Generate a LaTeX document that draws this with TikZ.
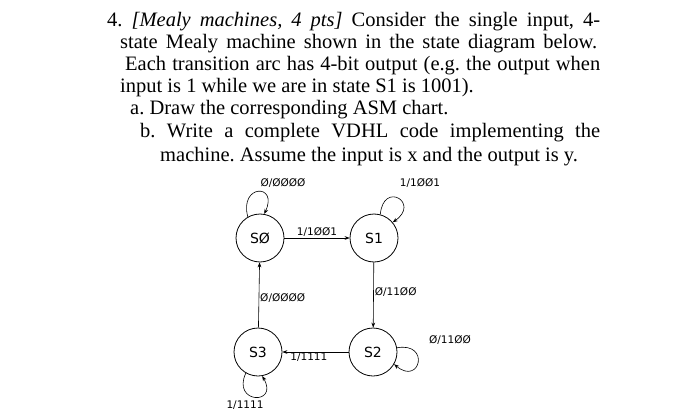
\documentclass[tikz,border=0pt]{standalone}
\usepackage{fontspec}
\setmainfont{Liberation Serif}
\newfontfamily\handfont{DejaVu Sans}
\usetikzlibrary{arrows.meta}
\frenchspacing
\begin{document}
\begin{tikzpicture}[x=1pt,y=-1pt,
    line/.style={anchor=base west,inner sep=0pt,font=\fontsize{20.5}{22}\selectfont},
    state/.style={draw,circle,minimum size=48pt,inner sep=0pt,thick,font=\handfont\fontsize{14}{14}\selectfont},
    arc/.style={-{Stealth[length=5pt]},semithick},
    lbl/.style={font=\handfont\fontsize{10.5}{10.5}\selectfont,inner sep=1pt}]
  \useasboundingbox (0,0) rectangle (700,414);

  % question text
  \node[line] (l1) at (107,27) {\makebox[493pt][s]{4. \textit{[Mealy machines, 4 pts]} Consider the single input, 4-}};
  \node[line] (l2) at (120,49) {\makebox[477pt][s]{state Mealy machine shown in the state diagram below.}};
  \node[line] (l3) at (125,71) {\makebox[475pt][s]{Each transition arc has 4-bit output (e.g. the output when}};
  \node[line] (l4) at (120,93) {input is 1 while we are in state S1 is 1001).};
  \node[line] (l5) at (130,115) {a. Draw the corresponding ASM chart.};
  \node[line] (l6) at (140,138) {\makebox[460pt][s]{b. Write a complete VDHL code implementing the}};
  \node[line] (l7) at (160,161) {machine. Assume the input is x and the output is y.};

  % states
  \node[state] (s0) at (260,238) {SØ};
  \node[state] (s1) at (374,238) {S1};
  \node[state] (s2) at (373,352) {S2};
  \node[state] (s3) at (258,352) {S3};

  % transitions
  \draw[arc] (s0) -- node[lbl,above] {1/1ØØ1} (s1);
  \draw[arc] (s1) -- node[lbl,right,pos=0.45] {Ø/11ØØ} (s2);
  \draw[arc] (s2) -- node[lbl,below,pos=0.6] {1/1111} (s3);
  \draw[arc] (s3) -- node[lbl,right,pos=0.45] {Ø/ØØØØ} (s0);

  % self loops
  \draw[arc] (s0.120) .. controls +(-105:34) and +(-65:34) .. (s0.80);
  \draw[arc] (s1.75) .. controls +(-85:34) and +(-35:34) .. (s1.40);
  \draw[arc] (s2.10) .. controls +(-10:34) and +(40:34) .. (s2.-30);
  \draw[arc] (s3.-120) .. controls +(115:34) and +(60:34) .. (s3.-80);
  \node[lbl] (ls0) at (283,183) {Ø/ØØØØ};
  \node[lbl] (ls1) at (420,183) {1/1ØØ1};
  \node[lbl] (ls2) at (450,340) {Ø/11ØØ};
  \node[lbl] (ls3) at (245,405) {1/1111};
\end{tikzpicture}
\end{document}
